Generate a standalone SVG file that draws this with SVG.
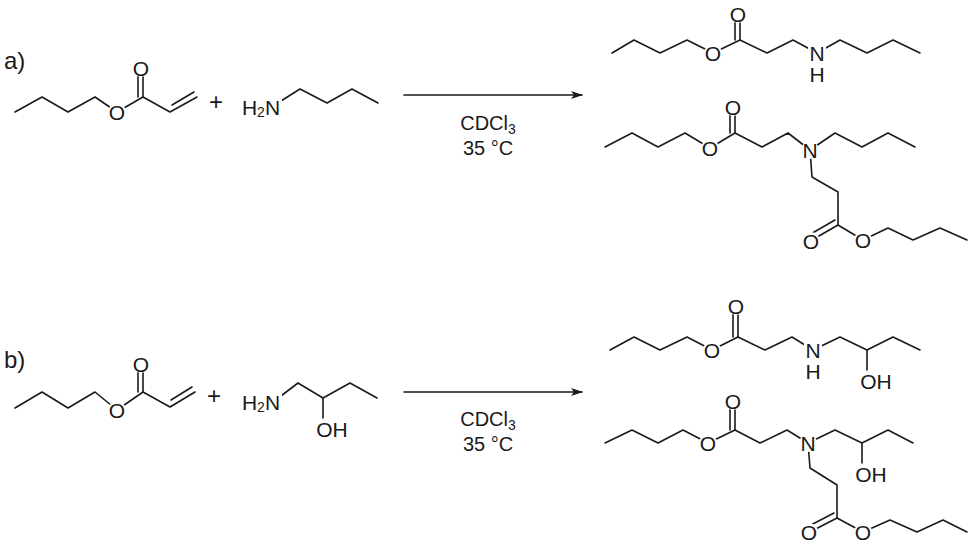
<svg xmlns="http://www.w3.org/2000/svg" width="970" height="545" viewBox="0 0 970 545">
<style>
.b{fill:none;stroke:#1a1a1a;stroke-width:1.6;stroke-linejoin:round;stroke-linecap:round}
.t{font-family:"Liberation Sans",Arial,sans-serif;font-size:20px;fill:#1a1a1a}
.p{font-family:"Liberation Sans",Arial,sans-serif;font-size:24px;fill:#1a1a1a}
.a{font-family:"Liberation Sans",Arial,sans-serif;font-size:21px;fill:#1a1a1a;text-anchor:middle;dominant-baseline:central}
.w{fill:#fff;stroke:none}
.l{font-family:"Liberation Sans",Arial,sans-serif;font-size:24px;fill:#1a1a1a}
</style>
<defs>
<marker id="ah" markerWidth="12" markerHeight="8" refX="11" refY="4" orient="auto" markerUnits="userSpaceOnUse"><path d="M0,0 L12,4 L0,8 L3,4 Z" fill="#1a1a1a"/></marker>
</defs>
<rect width="970" height="545" fill="#fff"/>
<text class="l" x="4" y="69">a)</text>
<text class="l" x="4" y="368">b)</text>

<g id="reactant-a1">
<polyline class="b" points="15,112 42,97 68,112 95,97 117,112 143,97 143,68"/>
<line class="b" x1="138" y1="97" x2="138" y2="68"/>
<polyline class="b" points="143,97 170,112 197,97"/>
<line class="b" x1="172" y1="105" x2="194" y2="92"/>
<circle class="w" cx="117" cy="112" r="9"/><text class="a" x="117" y="112">O</text>
<circle class="w" cx="141" cy="68" r="9"/><text class="a" x="141" y="68">O</text>
</g>
<text class="p" x="209" y="110">+</text>
<g id="reactant-a2">
<polyline class="b" points="273,106 300,89 327,103 352,89 378,103"/>
<rect class="w" x="240" y="96" width="42" height="22"/>
<text class="a" x="261" y="107">H<tspan font-size="14" dy="5">2</tspan><tspan dy="-5">N</tspan></text>
</g>

<g id="arrows">
<line class="b" x1="404" y1="95" x2="582" y2="95" marker-end="url(#ah)"/>
<line class="b" x1="404" y1="392" x2="582" y2="392" marker-end="url(#ah)"/>
</g>
<text class="t" x="488" y="130" text-anchor="middle">CDCl<tspan font-size="14" dy="4">3</tspan></text>
<text class="t" x="488" y="155" text-anchor="middle">35 °C</text>
<text class="t" x="488" y="426" text-anchor="middle">CDCl<tspan font-size="14" dy="4">3</tspan></text>
<text class="t" x="488" y="451" text-anchor="middle">35 °C</text>

<g id="product-a1">
<polyline class="b" points="612,53 634,40 660,53 687,40 713,53 740,40 740,15"/>
<line class="b" x1="735" y1="40" x2="735" y2="15"/>
<polyline class="b" points="740,40 767,53 793,40 817,53 840,40 867,53 893,40 920,53"/>
<circle class="w" cx="713" cy="53" r="9"/><text class="a" x="713" y="53">O</text>
<circle class="w" cx="738" cy="14" r="9"/><text class="a" x="738" y="14">O</text>
<rect class="w" x="808" y="43" width="18" height="42"/>
<text class="a" x="817" y="74">H</text>
<text class="a" x="817" y="53">N</text>
</g>

<g id="product-a2">
<polyline class="b" points="605,147 632,133 658,147 685,133 710,148 735,133 735,108"/>
<line class="b" x1="730" y1="133" x2="730" y2="108"/>
<polyline class="b" points="735,133 762,147 788,133 810,150 835,133 862,147 888,133 915,147"/>
<polyline class="b" points="810,150 812,177 838,192 838,225 863,240 888,228 913,240 940,228 967,240"/>
<line class="b" x1="838" y1="225" x2="812" y2="240"/>
<line class="b" x1="835" y1="220" x2="809" y2="235"/>
<circle class="w" cx="710" cy="148" r="9"/><text class="a" x="710" y="148">O</text>
<circle class="w" cx="733" cy="107" r="9"/><text class="a" x="733" y="107">O</text>
<circle class="w" cx="810" cy="150" r="9"/><text class="a" x="810" y="150">N</text>
<circle class="w" cx="811" cy="241" r="9"/><text class="a" x="811" y="241">O</text>
<circle class="w" cx="863" cy="240" r="9"/><text class="a" x="863" y="240">O</text>
</g>

<g id="reactant-b1">
<polyline class="b" points="15,408 42,392 68,408 95,392 117,410 143,392 143,365"/>
<line class="b" x1="138" y1="392" x2="138" y2="365"/>
<polyline class="b" points="143,392 170,407 195,392"/>
<line class="b" x1="171" y1="400" x2="192" y2="387"/>
<circle class="w" cx="117" cy="410" r="9"/><text class="a" x="117" y="410">O</text>
<circle class="w" cx="141" cy="364" r="9"/><text class="a" x="141" y="364">O</text>
</g>
<text class="p" x="207" y="404">+</text>
<g id="reactant-b2">
<polyline class="b" points="273,402 298,383 323,398 350,383 377,398"/>
<line class="b" x1="323" y1="398" x2="323" y2="418"/>
<rect class="w" x="240" y="391" width="42" height="22"/>
<text class="a" x="261" y="402">H<tspan font-size="14" dy="5">2</tspan><tspan dy="-5">N</tspan></text>
<rect class="w" x="316" y="419" width="32" height="20"/>
<text class="a" x="332" y="429">OH</text>
</g>

<g id="product-b1">
<polyline class="b" points="610,350 634,337 660,350 687,337 712,350 738,337 738,307"/>
<line class="b" x1="733" y1="337" x2="733" y2="307"/>
<polyline class="b" points="738,337 765,350 792,337 813,350 840,337 867,350 893,337 920,350"/>
<line class="b" x1="867" y1="350" x2="867" y2="370"/>
<circle class="w" cx="712" cy="350" r="9"/><text class="a" x="712" y="350">O</text>
<circle class="w" cx="736" cy="306" r="9"/><text class="a" x="736" y="306">O</text>
<rect class="w" x="804" y="340" width="18" height="42"/>
<text class="a" x="813" y="371">H</text>
<text class="a" x="813" y="350">N</text>
<rect class="w" x="860" y="371" width="32" height="20"/>
<text class="a" x="876" y="381">OH</text>
</g>

<g id="product-b2">
<polyline class="b" points="605,443 632,430 658,443 683,430 708,443 735,430 735,402"/>
<line class="b" x1="730" y1="430" x2="730" y2="402"/>
<polyline class="b" points="735,430 760,443 787,430 808,443 835,430 862,443 888,430 913,443"/>
<line class="b" x1="862" y1="443" x2="862" y2="463"/>
<polyline class="b" points="808,443 810,468 837,485 837,518 863,532 890,520 917,532 943,520 967,532"/>
<line class="b" x1="837" y1="518" x2="810" y2="532"/>
<line class="b" x1="834" y1="513" x2="807" y2="527"/>
<circle class="w" cx="708" cy="443" r="9"/><text class="a" x="708" y="443">O</text>
<circle class="w" cx="733" cy="401" r="9"/><text class="a" x="733" y="401">O</text>
<circle class="w" cx="808" cy="443" r="9"/><text class="a" x="808" y="443">N</text>
<rect class="w" x="855" y="464" width="32" height="20"/>
<text class="a" x="871" y="474">OH</text>
<circle class="w" cx="809" cy="532" r="9"/><text class="a" x="809" y="532">O</text>
<circle class="w" cx="863" cy="532" r="9"/><text class="a" x="863" y="532">O</text>
</g>
</svg>
